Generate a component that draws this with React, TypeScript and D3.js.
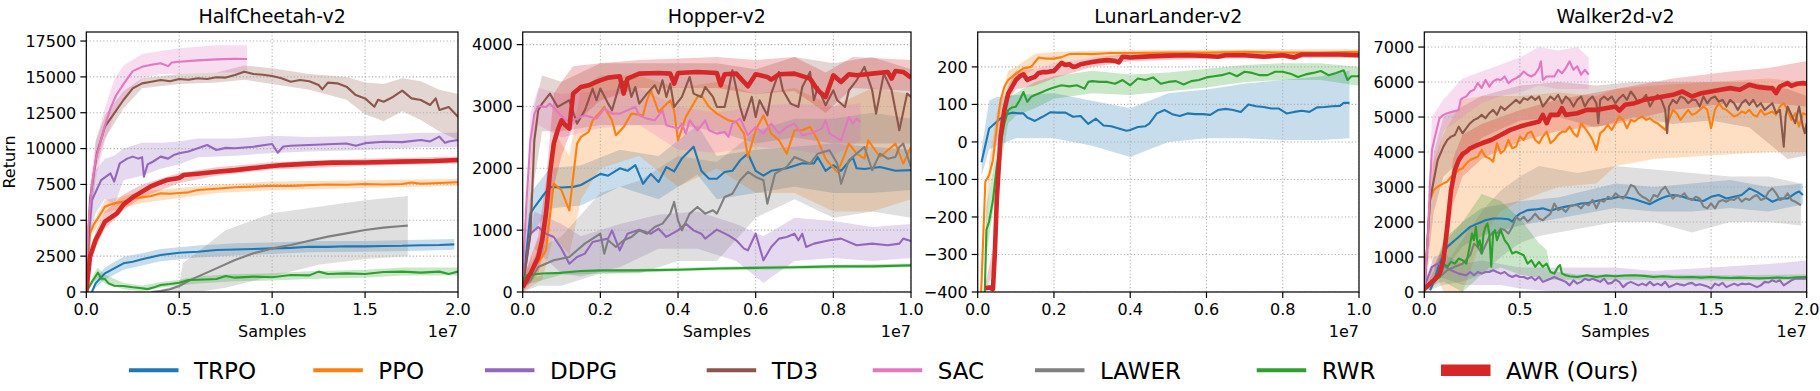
import React from 'react';
import * as d3 from 'd3';

const W = 1820, H = 391;
const TOP = 32, BOTTOM = 292;
const PANEL_X: [number, number][] = [[86.3, 458], [522.7, 911], [977.7, 1359], [1424.3, 1806.7]];
const FONT = '"DejaVu Sans", Verdana, sans-serif';

const NAMES = ['TRPO', 'PPO', 'DDPG', 'TD3', 'SAC', 'LAWER', 'RWR', 'AWR (Ours)'];
const COLORS = ['#1f77b4', '#ff7f0e', '#9467bd', '#8c564b', '#e377c2', '#7f7f7f', '#2ca02c', '#d62728'];
const TITLES = ['HalfCheetah-v2', 'Hopper-v2', 'LunarLander-v2', 'Walker2d-v2'];
const X_MAX = [2.0, 1.0, 1.0, 2.0];
const Y_DOMAINS: [number, number][] = [[0, 18130], [0, 4204], [-400, 293], [0, 7430]];
const Y_TICKS = [
  [0, 2500, 5000, 7500, 10000, 12500, 15000, 17500],
  [0, 1000, 2000, 3000, 4000],
  [-400, -300, -200, -100, 0, 100, 200],
  [0, 1000, 2000, 3000, 4000, 5000, 6000, 7000],
];
const X_TICKS = [
  [0, 0.5, 1.0, 1.5, 2.0],
  [0, 0.2, 0.4, 0.6, 0.8, 1.0],
  [0, 0.2, 0.4, 0.6, 0.8, 1.0],
  [0, 0.5, 1.0, 1.5, 2.0],
];
const SHOW_XLABEL = [true, true, false, true];

// ---------------- HalfCheetah ----------------
const HC_TRPO = [[0.03,0],[0.05,600],[0.1,1300],[0.15,1650],[0.2,2000],[0.25,2110],[0.3,2280],[0.4,2580],[0.5,2740],[0.6,2810],[0.7,2930],[0.8,2960],[0.9,3000],[1.0,3040],[1.1,3080],[1.2,3160],[1.3,3150],[1.4,3190],[1.5,3180],[1.6,3210],[1.7,3220],[1.8,3260],[1.9,3280],[1.98,3320]];
const HC_TRPO_B = [[0.03,0,0],[0.05,300,900],[0.1,850,1700],[0.2,1550,2450],[0.3,1850,2700],[0.4,2150,3000],[0.6,2400,3250],[0.8,2550,3400],[1.0,2650,3450],[1.2,2780,3550],[1.5,2800,3550],[1.8,2880,3650],[1.98,2950,3700]];
const HC_PPO = [[0,0],[0.02,4090],[0.04,4700],[0.07,5300],[0.1,5950],[0.13,6100],[0.15,6180],[0.2,6300],[0.25,6530],[0.3,6600],[0.35,6700],[0.4,6880],[0.45,6850],[0.5,6900],[0.55,6950],[0.6,7110],[0.7,7200],[0.8,7300],[0.9,7350],[1.0,7410],[1.1,7400],[1.2,7450],[1.3,7500],[1.4,7480],[1.5,7530],[1.6,7500],[1.7,7530],[1.75,7640],[1.8,7550],[1.9,7600],[2.0,7650]];
const HC_PPO_B = [[0,0,200],[0.02,3700,4500],[0.1,5500,6400],[0.2,5900,6700],[0.3,6200,7000],[0.5,6550,7250],[0.7,6900,7500],[1.0,7100,7700],[1.5,7250,7800],[2.0,7400,7900]];
const HC_DDPG = [[0,0],[0.01,3500],[0.03,6400],[0.08,7800],[0.13,8270],[0.15,7700],[0.18,8970],[0.22,9300],[0.25,9440],[0.28,9300],[0.3,9400],[0.31,8040],[0.33,8900],[0.36,9100],[0.4,9440],[0.44,9300],[0.47,9550],[0.5,9670],[0.55,9800],[0.6,10020],[0.65,10250],[0.7,9900],[0.75,10050],[0.8,10020],[0.9,10130],[1.0,10320],[1.03,9710],[1.06,10150],[1.1,10200],[1.2,10250],[1.3,10300],[1.4,10360],[1.45,10200],[1.5,10380],[1.6,10480],[1.7,10450],[1.8,10600],[1.85,10500],[1.9,10830],[1.93,10400],[1.95,10500],[2.0,10600]];
const HC_DDPG_B = [[0,0,300],[0.02,4000,6500],[0.05,5500,8500],[0.1,6500,9300],[0.15,6000,9500],[0.2,7800,10000],[0.3,8100,10400],[0.4,8600,10400],[0.5,8900,10500],[0.6,9400,10700],[0.8,9500,10700],[1.0,9700,10900],[1.2,9800,10800],[1.5,9900,10900],[1.8,10100,11100],[2.0,10100,11100]];
const HC_TD3 = [[0,0],[0.02,6500],[0.057,9670],[0.1,11530],[0.15,12460],[0.2,13390],[0.25,14200],[0.3,14550],[0.35,14660],[0.4,14780],[0.45,14700],[0.5,14850],[0.55,14800],[0.6,14900],[0.65,14850],[0.7,14970],[0.75,14950],[0.8,15130],[0.85,15360],[0.9,15200],[0.95,15150],[1.0,15060],[1.05,14900],[1.1,14660],[1.15,14780],[1.2,14700],[1.25,14430],[1.27,14130],[1.3,14600],[1.35,14550],[1.4,14320],[1.45,13730],[1.5,13500],[1.55,12920],[1.57,13400],[1.6,13270],[1.65,13600],[1.7,14040],[1.75,13500],[1.8,13390],[1.85,13040],[1.88,13500],[1.9,12690],[1.95,12900],[2.0,12220]];
const HC_TD3_B = [[0,0,300],[0.05,8500,10500],[0.1,10700,12300],[0.2,12800,14000],[0.3,14200,14900],[0.5,14500,15200],[0.7,14600,15300],[0.85,14800,15800],[1.0,14500,15600],[1.2,14100,15200],[1.4,13400,15000],[1.5,12400,14600],[1.6,11900,14500],[1.7,12600,14900],[1.8,12000,14700],[1.9,11200,14100],[2.0,10600,13800]];
const HC_SAC = [[0,0],[0.01,4500],[0.03,7500],[0.05,9200],[0.075,10400],[0.1,11600],[0.13,12800],[0.16,13700],[0.2,14500],[0.25,15400],[0.3,15700],[0.35,15850],[0.4,15950],[0.44,15750],[0.46,16000],[0.5,16050],[0.6,16150],[0.7,16220],[0.8,16260],[0.865,16250]];
const HC_SAC_B = [[0,0,300],[0.02,5000,7500],[0.05,7800,10500],[0.1,10500,12800],[0.15,12300,14800],[0.2,13400,15800],[0.3,14900,16600],[0.4,15200,16800],[0.5,15200,17000],[0.7,15300,17200],[0.865,15300,17200]];
const HC_LAWER = [[0.35,0],[0.4,60],[0.45,190],[0.5,420],[0.55,770],[0.6,1070],[0.7,1650],[0.8,2230],[0.9,2700],[1.0,3040],[1.1,3280],[1.2,3580],[1.3,3860],[1.4,4090],[1.5,4320],[1.6,4490],[1.7,4600],[1.73,4630]];
const HC_LAWER_B = [[0.35,0,0],[0.5,0,500],[0.52,0,2000],[0.6,0,2800],[0.75,300,4300],[1.0,1100,5500],[1.25,1900,5950],[1.5,2300,6400],[1.73,2500,6700]];
const HC_RWR = [[0,0],[0.03,700],[0.063,1350],[0.08,950],[0.1,900],[0.12,600],[0.15,440],[0.2,420],[0.25,330],[0.3,260],[0.33,200],[0.37,350],[0.4,490],[0.45,560],[0.5,650],[0.55,840],[0.6,850],[0.7,910],[0.75,1115],[0.8,1000],[0.9,1070],[1.0,1030],[1.1,1190],[1.2,1160],[1.25,1420],[1.3,1260],[1.4,1300],[1.5,1250],[1.6,1390],[1.7,1420],[1.8,1350],[1.9,1420],[1.95,1260],[2.0,1420]];
const HC_RWR_B = [[0,0,200],[0.06,1000,1700],[0.1,600,1200],[0.2,200,650],[0.3,50,450],[0.4,300,700],[0.5,450,850],[0.6,600,1100],[0.8,750,1250],[1.0,800,1300],[1.2,900,1450],[1.5,1000,1550],[1.7,1150,1700],[2.0,1150,1700]];
const HC_AWR = [[0,0],[0.02,2460],[0.05,3630],[0.1,4900],[0.165,5480],[0.2,6100],[0.255,6650],[0.3,7000],[0.344,7340],[0.4,7650],[0.434,7810],[0.5,7950],[0.524,8160],[0.6,8250],[0.7,8390],[0.8,8500],[0.88,8620],[1.0,8780],[1.06,8850],[1.2,8950],[1.33,9020],[1.5,9030],[1.69,9090],[1.87,9130],[2.0,9200]];
const HC_AWR_B = [[0,0,200],[0.02,2000,3000],[0.05,3100,4200],[0.1,4400,5600],[0.2,5700,6800],[0.3,6600,7500],[0.5,7600,8300],[0.7,8100,8700],[1.0,8550,9050],[1.5,8800,9300],[2.0,8950,9450]];

// ---------------- Hopper ----------------
const HP_TRPO = [[0,80],[0.02,1270],[0.03,1370],[0.05,1540],[0.07,1700],[0.1,1690],[0.13,1700],[0.15,1730],[0.17,1800],[0.2,1910],[0.22,1880],[0.25,2000],[0.27,1960],[0.29,2050],[0.31,1750],[0.33,1910],[0.35,1780],[0.37,2020],[0.39,1950],[0.41,2160],[0.44,2350],[0.46,1960],[0.48,1830],[0.5,1830],[0.52,1940],[0.54,1960],[0.56,2130],[0.58,2240],[0.6,1960],[0.62,1880],[0.64,1960],[0.68,2000],[0.72,2080],[0.75,2080],[0.76,2180],[0.78,1960],[0.8,2050],[0.82,1960],[0.85,2180],[0.86,2000],[0.88,1990],[0.92,2020],[0.96,1960],[1.0,1970]];
const HP_TRPO_B = [[0,0,150],[0.02,900,1600],[0.07,1350,2000],[0.15,1400,2050],[0.25,1700,2300],[0.35,1500,2200],[0.45,1900,2700],[0.5,1500,2200],[0.6,1600,2300],[0.7,1700,2350],[0.8,1600,2400],[0.9,1600,2350],[1.0,1650,2300]];
const HP_PPO = [[0,80],[0.03,404],[0.05,566],[0.06,674],[0.07,1213],[0.08,1752],[0.1,1644],[0.12,1321],[0.13,1860],[0.14,2399],[0.15,2507],[0.17,2588],[0.18,2776],[0.2,2911],[0.21,2992],[0.22,2884],[0.23,2776],[0.24,2534],[0.26,2669],[0.28,2884],[0.31,2857],[0.32,3100],[0.33,3262],[0.35,2911],[0.38,3100],[0.39,2938],[0.4,2453],[0.42,2830],[0.45,3154],[0.46,3181],[0.48,2992],[0.5,2884],[0.53,2776],[0.55,2749],[0.57,2561],[0.58,2183],[0.6,2615],[0.62,2857],[0.64,2561],[0.66,2453],[0.68,2237],[0.7,2615],[0.72,2615],[0.74,2669],[0.76,2453],[0.78,2156],[0.79,2076],[0.81,1941],[0.82,2076],[0.84,2399],[0.86,2237],[0.88,2156],[0.89,2453],[0.92,2183],[0.95,2345],[0.96,2399],[0.98,2076],[1.0,2345]];
const HP_PPO_B = [[0,0,200],[0.05,200,1000],[0.08,900,2600],[0.12,600,2200],[0.15,1500,3300],[0.2,2000,3500],[0.3,2200,3500],[0.4,1700,3300],[0.5,2000,3400],[0.6,1600,3200],[0.7,1600,3300],[0.8,1300,3000],[0.9,1300,3300],[1.0,1500,3200]];
const HP_DDPG = [[0,80],[0.02,943],[0.04,1051],[0.06,943],[0.08,890],[0.1,701],[0.12,458],[0.14,566],[0.16,620],[0.18,809],[0.2,836],[0.22,863],[0.23,997],[0.25,674],[0.27,943],[0.3,1008],[0.33,943],[0.35,1024],[0.37,890],[0.4,997],[0.42,1105],[0.44,997],[0.46,943],[0.47,863],[0.5,1008],[0.53,916],[0.55,836],[0.57,701],[0.58,674],[0.6,943],[0.62,512],[0.64,728],[0.66,863],[0.68,890],[0.7,943],[0.71,836],[0.72,943],[0.73,728],[0.75,782],[0.79,836],[0.82,863],[0.86,755],[0.9,782],[0.94,755],[0.97,782],[0.98,863],[1.0,825]];
const HP_DDPG_B = [[0,0,200],[0.03,700,1300],[0.1,300,1100],[0.15,250,900],[0.25,400,1100],[0.35,700,1250],[0.45,700,1300],[0.55,500,1100],[0.62,150,900],[0.7,500,1200],[0.8,550,1150],[0.9,500,1050],[1.0,550,1100]];
const HP_TD3 = [[0,80],[0.02,943],[0.03,2453],[0.04,2938],[0.05,3046],[0.07,3208],[0.09,2992],[0.12,3100],[0.14,2722],[0.16,2938],[0.18,3289],[0.19,3100],[0.2,3289],[0.22,3046],[0.23,2938],[0.25,3369],[0.27,3423],[0.28,3154],[0.29,3315],[0.3,3046],[0.32,3208],[0.34,3342],[0.35,3208],[0.36,3423],[0.37,3154],[0.38,3369],[0.39,2992],[0.41,3154],[0.43,3477],[0.44,3208],[0.46,3154],[0.47,3315],[0.49,3154],[0.5,2992],[0.52,2992],[0.53,3262],[0.54,3585],[0.56,2992],[0.57,2776],[0.59,3154],[0.6,2830],[0.61,3100],[0.63,2857],[0.64,3208],[0.66,3558],[0.67,3262],[0.69,3046],[0.71,2992],[0.72,3315],[0.74,3558],[0.75,3100],[0.76,3315],[0.78,3019],[0.8,3262],[0.81,3100],[0.83,2992],[0.84,3262],[0.86,3423],[0.88,3639],[0.9,3262],[0.91,2884],[0.93,3531],[0.95,3262],[0.97,2615],[0.99,3208],[1.0,3154]];
const HP_TD3_B = [[0,0,200],[0.03,1800,3000],[0.05,2600,3500],[0.1,2600,3400],[0.2,2700,3700],[0.3,2700,3700],[0.4,2700,3700],[0.5,2600,3700],[0.6,2400,3600],[0.7,2500,3800],[0.8,2400,3700],[0.9,2400,3800],[1.0,2400,3600]];
const HP_SAC = [[0,243],[0.01,1483],[0.02,2453],[0.03,2884],[0.04,3003],[0.06,2992],[0.07,3046],[0.09,2911],[0.11,2776],[0.13,2776],[0.16,2857],[0.19,2803],[0.21,2965],[0.23,2884],[0.25,2884],[0.27,2938],[0.29,2992],[0.3,2857],[0.32,2803],[0.34,2776],[0.36,2938],[0.37,2695],[0.4,2642],[0.41,2722],[0.42,2561],[0.43,2776],[0.45,2615],[0.47,2776],[0.48,2615],[0.5,2561],[0.52,2588],[0.53,2507],[0.54,2722],[0.56,2803],[0.58,2534],[0.6,2669],[0.62,2561],[0.64,2722],[0.66,2561],[0.68,2669],[0.7,2722],[0.72,2534],[0.74,2561],[0.77,2642],[0.78,2776],[0.79,2561],[0.82,2453],[0.83,2642],[0.84,2830],[0.85,2722],[0.86,2803],[0.87,2749]];
const HP_SAC_B = [[0,0,500],[0.02,2000,2900],[0.04,2700,3300],[0.1,2500,3200],[0.2,2650,3250],[0.3,2700,3300],[0.4,2300,3000],[0.5,2250,2900],[0.6,2350,3000],[0.7,2300,3050],[0.8,2200,3000],[0.87,2450,3050]];
const HP_LAWER = [[0,80],[0.02,189],[0.04,404],[0.08,512],[0.12,566],[0.14,674],[0.16,782],[0.18,863],[0.2,943],[0.21,620],[0.22,836],[0.24,728],[0.26,836],[0.28,890],[0.3,997],[0.32,943],[0.34,1051],[0.36,1105],[0.38,1267],[0.39,1456],[0.4,1159],[0.41,997],[0.43,1267],[0.45,1375],[0.47,1267],[0.49,1321],[0.5,1267],[0.52,1536],[0.54,1590],[0.56,1806],[0.58,1941],[0.6,1860],[0.62,1806],[0.63,1429],[0.65,1914],[0.68,2022],[0.7,2183],[0.72,2129],[0.74,2076],[0.76,2237],[0.79,2291],[0.81,2076],[0.82,1750],[0.84,2129],[0.86,2237],[0.88,2345],[0.9,1968],[0.92,2237],[0.94,2156],[0.96,2183],[0.97,2345],[0.98,2399],[1.0,2022]];
const HP_LAWER_B = [[0,0,200],[0.04,100,700],[0.1,100,900],[0.2,300,1600],[0.3,300,1800],[0.4,500,2200],[0.5,500,2100],[0.6,1200,2600],[0.7,1500,2800],[0.8,1200,2800],[0.9,1300,2900],[1.0,1200,2800]];
const HP_RWR = [[0,150],[0.01,270],[0.05,300],[0.1,310],[0.15,340],[0.2,350],[0.3,350],[0.4,360],[0.5,380],[0.6,390],[0.7,400],[0.8,415],[0.9,415],[1.0,430]];
const HP_RWR_B = [[0,100,200],[0.1,280,340],[0.5,350,410],[1.0,400,460]];
const HP_AWR = [[0,80],[0.02,297],[0.04,566],[0.05,836],[0.06,1267],[0.07,1914],[0.08,2399],[0.09,2615],[0.1,2776],[0.11,2695],[0.12,2642],[0.13,3208],[0.15,3315],[0.17,3342],[0.19,3396],[0.2,3423],[0.22,3466],[0.25,3488],[0.26,3208],[0.27,3450],[0.3,3531],[0.35,3542],[0.38,3531],[0.39,3369],[0.4,3542],[0.45,3558],[0.5,3542],[0.51,3342],[0.52,3520],[0.55,3531],[0.58,3326],[0.6,3520],[0.63,3477],[0.64,3434],[0.66,3520],[0.7,3531],[0.74,3450],[0.76,3262],[0.78,3154],[0.8,3504],[0.82,3396],[0.84,3520],[0.86,3504],[0.9,3531],[0.94,3558],[0.95,3450],[0.96,3574],[0.98,3558],[1.0,3466]];
const HP_AWR_B = [[0,0,200],[0.04,300,900],[0.06,800,1800],[0.08,1700,3200],[0.1,2200,3400],[0.13,2700,3650],[0.2,3100,3700],[0.3,3300,3750],[0.5,3300,3800],[0.6,3200,3750],[0.7,3250,3800],[0.78,2900,3550],[0.85,3300,3800],[1.0,3250,3750]];

// ---------------- LunarLander ----------------
const LL_TRPO = [[0.01,-54],[0.03,36],[0.05,54],[0.07,72],[0.09,78],[0.11,76],[0.12,76],[0.13,65],[0.15,56],[0.17,67],[0.19,79],[0.21,78],[0.23,78],[0.25,67],[0.27,69],[0.29,48],[0.31,62],[0.33,44],[0.35,42],[0.37,36],[0.39,30],[0.4,32],[0.41,36],[0.42,40],[0.44,42],[0.45,49],[0.47,76],[0.49,85],[0.51,74],[0.53,69],[0.55,76],[0.57,74],[0.59,74],[0.61,72],[0.63,85],[0.65,88],[0.67,85],[0.69,80],[0.71,100],[0.73,95],[0.75,93],[0.77,89],[0.79,89],[0.81,76],[0.83,80],[0.85,83],[0.87,80],[0.89,92],[0.91,93],[0.93,95],[0.95,96],[0.96,104],[0.975,104]];
const LL_TRPO_B = [[0.01,-90,-20],[0.03,-20,110],[0.05,-10,120],[0.1,10,125],[0.2,10,130],[0.3,-10,110],[0.4,-40,90],[0.5,0,130],[0.6,10,140],[0.7,10,155],[0.8,5,165],[0.9,5,175],[0.975,10,190]];
const LL_PPO = [[0.008,-430],[0.02,-106],[0.03,-88],[0.04,-48],[0.05,40],[0.06,111],[0.07,147],[0.08,165],[0.1,182],[0.12,196],[0.14,200],[0.16,225],[0.18,222],[0.2,222],[0.22,226],[0.24,234],[0.26,235],[0.3,234],[0.35,237],[0.4,237],[0.5,238],[0.6,238],[0.7,240],[0.8,238],[0.9,238],[1.0,240]];
const LL_PPO_B = [[0.008,-430,-430],[0.03,-130,-50],[0.05,0,80],[0.08,140,190],[0.1,165,200],[0.15,195,235],[0.2,210,240],[0.3,225,243],[0.5,230,245],[1.0,232,247]];
const LL_RWR = [[0.018,-420],[0.023,-234],[0.03,-212],[0.04,-155],[0.05,-66],[0.06,-4],[0.07,49],[0.08,85],[0.09,92],[0.1,94],[0.11,111],[0.12,133],[0.13,107],[0.14,120],[0.15,125],[0.16,129],[0.17,133],[0.18,138],[0.19,142],[0.2,145],[0.22,151],[0.24,148],[0.26,151],[0.28,142],[0.29,160],[0.3,162],[0.32,160],[0.34,160],[0.36,155],[0.38,165],[0.4,151],[0.42,169],[0.44,165],[0.46,172],[0.48,155],[0.5,160],[0.52,162],[0.54,153],[0.56,162],[0.58,165],[0.6,172],[0.62,175],[0.64,178],[0.66,184],[0.68,175],[0.7,187],[0.72,184],[0.74,178],[0.76,178],[0.78,187],[0.8,187],[0.82,182],[0.84,173],[0.86,180],[0.88,184],[0.9,189],[0.92,178],[0.94,184],[0.96,191],[0.97,165],[0.98,175],[1.0,175]];
const LL_RWR_B = [[0.018,-420,-420],[0.023,-300,-170],[0.05,-120,-20],[0.08,50,120],[0.1,70,130],[0.15,90,160],[0.2,115,175],[0.3,130,190],[0.4,125,180],[0.5,135,185],[0.6,145,195],[0.7,160,205],[0.8,165,210],[0.9,165,210],[1.0,150,200]];
const LL_AWR = [[0.02,-390],[0.03,-388],[0.04,-392],[0.045,-296],[0.05,-155],[0.06,14],[0.07,85],[0.08,129],[0.09,147],[0.1,165],[0.11,175],[0.12,180],[0.13,165],[0.14,170],[0.15,173],[0.16,184],[0.17,186],[0.18,186],[0.19,188],[0.2,189],[0.21,200],[0.22,211],[0.23,205],[0.24,207],[0.25,200],[0.26,202],[0.27,207],[0.28,209],[0.29,211],[0.3,213],[0.32,216],[0.34,218],[0.36,216],[0.37,212],[0.38,227],[0.4,225],[0.45,228],[0.5,230],[0.55,231],[0.6,229],[0.63,227],[0.65,231],[0.7,231],[0.75,227],[0.8,231],[0.83,225],[0.85,233],[0.9,233],[0.95,233],[1.0,231]];
const LL_AWR_B = [[0.02,-400,-380],[0.045,-330,-260],[0.06,-30,60],[0.08,110,150],[0.1,140,190],[0.15,150,195],[0.2,170,210],[0.3,200,225],[0.4,215,235],[0.6,222,237],[1.0,224,238]];

// ---------------- Walker2d ----------------
const W_TRPO = [[0.03,50],[0.05,300],[0.08,810],[0.12,1290],[0.16,1480],[0.2,1670],[0.24,1860],[0.28,1960],[0.32,2050],[0.36,2100],[0.4,2100],[0.44,2080],[0.46,2010],[0.48,2150],[0.5,2240],[0.54,2340],[0.58,2360],[0.62,2390],[0.66,2320],[0.7,2390],[0.74,2440],[0.78,2480],[0.82,2530],[0.86,2550],[0.9,2600],[0.94,2650],[0.98,2670],[1.02,2720],[1.06,2700],[1.1,2650],[1.14,2580],[1.18,2510],[1.22,2630],[1.26,2720],[1.3,2770],[1.34,2740],[1.38,2670],[1.42,2630],[1.46,2600],[1.5,2720],[1.54,2770],[1.58,2670],[1.62,2720],[1.66,2770],[1.7,2960],[1.72,2910],[1.74,2860],[1.78,2720],[1.82,2580],[1.86,2670],[1.9,2670],[1.94,2820],[1.96,2870],[1.98,2770]];
const W_TRPO_B = [[0.03,0,100],[0.1,600,1400],[0.2,1300,2000],[0.3,1600,2400],[0.5,1900,2600],[0.7,2100,2700],[1.0,2400,3100],[1.2,2300,3000],[1.4,2300,3100],[1.6,2400,3200],[1.8,2300,3000],[1.98,2500,3100]];
const W_PPO = [[0,0],[0.03,2626],[0.05,2913],[0.07,3008],[0.1,3104],[0.12,3152],[0.14,3295],[0.16,3390],[0.18,3486],[0.2,3534],[0.22,3677],[0.24,3772],[0.26,3820],[0.28,3868],[0.3,4059],[0.32,3868],[0.34,3820],[0.36,3725],[0.38,4250],[0.4,3963],[0.42,4059],[0.44,4345],[0.46,4107],[0.48,4154],[0.5,4441],[0.52,4345],[0.54,4536],[0.56,4584],[0.58,4345],[0.6,4250],[0.62,4441],[0.64,4584],[0.66,4250],[0.68,4345],[0.7,4489],[0.72,4584],[0.74,4584],[0.76,4727],[0.78,4536],[0.8,4441],[0.82,4823],[0.84,4680],[0.86,4536],[0.88,4345],[0.9,4059],[0.92,4536],[0.94,4632],[0.96,4775],[0.98,4632],[1.0,4823],[1.02,5014],[1.04,4918],[1.06,4680],[1.08,4918],[1.1,4871],[1.12,4966],[1.14,5014],[1.16,4918],[1.18,4966],[1.2,4871],[1.22,4823],[1.24,4727],[1.26,4632],[1.28,4918],[1.3,5205],[1.32,5109],[1.34,4918],[1.36,5062],[1.38,5205],[1.4,5062],[1.42,5109],[1.44,5205],[1.46,5300],[1.48,5205],[1.5,4680],[1.52,5205],[1.54,5396],[1.56,5253],[1.58,5205],[1.6,5109],[1.62,5014],[1.64,5062],[1.66,5157],[1.68,5109],[1.7,5205],[1.72,5062],[1.74,5014],[1.76,5205],[1.78,5062],[1.8,5109],[1.82,5157],[1.84,5062],[1.86,5300],[1.88,5396],[1.9,5205],[1.92,4918],[1.94,5109],[1.96,4727],[1.98,5109],[2.0,5062]];
const W_PPO_B = [[0,0,200],[0.03,1000,3500],[0.1,0,4500],[0.2,0,5500],[0.3,1500,5600],[0.4,2300,5600],[0.5,2600,5600],[0.7,3000,5700],[0.9,3100,5600],[1.0,3600,5800],[1.2,3800,5900],[1.5,3900,6000],[1.8,4000,6100],[2.0,4000,6000]];
const W_DDPG = [[0,150],[0.04,720],[0.07,810],[0.1,760],[0.14,620],[0.18,525],[0.22,480],[0.24,570],[0.26,480],[0.28,570],[0.3,525],[0.32,570],[0.34,570],[0.36,620],[0.38,570],[0.4,525],[0.42,570],[0.44,480],[0.46,430],[0.48,480],[0.5,430],[0.52,430],[0.54,380],[0.56,430],[0.58,335],[0.6,430],[0.62,290],[0.64,335],[0.66,380],[0.68,430],[0.7,380],[0.72,335],[0.74,290],[0.76,190],[0.78,335],[0.8,240],[0.82,290],[0.84,380],[0.86,335],[0.88,380],[0.9,335],[0.92,290],[0.94,380],[0.96,240],[0.98,260],[1.0,355],[1.02,290],[1.04,140],[1.06,240],[1.08,290],[1.1,240],[1.12,190],[1.14,240],[1.16,190],[1.18,290],[1.2,190],[1.22,240],[1.24,190],[1.26,290],[1.28,140],[1.3,190],[1.32,240],[1.34,210],[1.36,190],[1.38,240],[1.4,260],[1.42,190],[1.44,220],[1.46,190],[1.48,160],[1.5,95],[1.52,240],[1.54,190],[1.56,260],[1.58,140],[1.6,190],[1.62,240],[1.64,190],[1.66,240],[1.68,220],[1.7,240],[1.72,190],[1.74,140],[1.76,190],[1.78,290],[1.8,270],[1.82,335],[1.84,290],[1.86,335],[1.88,190],[1.9,260],[1.92,335],[1.94,380],[1.96,380],[1.98,380],[2.0,380]];
const W_DDPG_B = [[0,0,300],[0.05,400,1000],[0.1,400,1100],[0.2,200,800],[0.3,200,900],[0.4,200,800],[0.5,100,700],[0.7,0,700],[1.0,0,700],[1.2,0,600],[1.5,0,700],[1.8,0,800],[2.0,0,900]];
const W_TD3 = [[0,0],[0.03,2626],[0.05,3199],[0.07,3772],[0.1,4154],[0.12,4345],[0.14,4441],[0.16,4489],[0.18,4727],[0.2,4536],[0.22,4680],[0.24,4823],[0.26,4918],[0.28,4966],[0.3,5062],[0.32,4966],[0.34,5109],[0.36,5205],[0.38,5062],[0.4,5300],[0.42,5205],[0.44,5300],[0.46,5396],[0.48,5491],[0.5,5396],[0.52,5539],[0.54,5491],[0.56,5587],[0.58,5491],[0.6,5587],[0.62,5300],[0.64,5444],[0.66,5587],[0.68,5491],[0.7,5635],[0.72,5396],[0.74,5587],[0.76,5491],[0.78,5300],[0.8,5491],[0.82,5587],[0.84,5300],[0.86,5491],[0.88,5587],[0.9,5396],[0.91,4823],[0.92,5491],[0.94,5587],[0.96,5491],[0.98,5587],[1.0,5396],[1.02,5539],[1.04,5635],[1.06,5491],[1.08,5730],[1.1,5587],[1.12,5396],[1.14,5491],[1.16,5635],[1.18,5300],[1.2,5491],[1.22,5635],[1.24,5491],[1.26,5205],[1.27,4536],[1.28,5300],[1.3,5491],[1.32,5396],[1.34,5587],[1.36,5539],[1.38,5396],[1.4,5491],[1.42,5491],[1.44,5300],[1.46,5587],[1.48,5396],[1.5,5539],[1.52,5587],[1.54,5444],[1.56,5491],[1.58,5300],[1.6,5491],[1.62,5396],[1.64,5205],[1.66,5396],[1.68,5491],[1.7,5348],[1.72,5491],[1.74,5300],[1.76,5396],[1.78,5205],[1.8,5300],[1.82,5396],[1.84,5109],[1.86,5205],[1.88,4154],[1.89,5014],[1.9,5300],[1.92,5062],[1.94,4823],[1.96,5300],[1.98,4727],[1.99,4536],[2.0,4823]];
const W_TD3_B = [[0,0,200],[0.05,2300,4000],[0.1,3300,5000],[0.2,3800,5300],[0.3,4400,5600],[0.5,4900,5900],[0.7,5000,6000],[0.9,4700,5900],[1.1,5000,6000],[1.3,4800,6000],[1.5,4900,6000],[1.7,4700,6000],[1.9,3800,5800],[2.0,3900,5600]];
const W_SAC = [[0,0],[0.02,1670],[0.03,3100],[0.04,4060],[0.06,4540],[0.08,4970],[0.1,5060],[0.12,5110],[0.15,5160],[0.18,5200],[0.19,5490],[0.2,5540],[0.22,5590],[0.24,5730],[0.26,5780],[0.28,5970],[0.3,5830],[0.32,6060],[0.34,5870],[0.36,6020],[0.38,6080],[0.4,6060],[0.42,6160],[0.44,5970],[0.46,6060],[0.48,6110],[0.5,6180],[0.52,6300],[0.54,6210],[0.56,6160],[0.58,6230],[0.6,6400],[0.61,6590],[0.62,6060],[0.64,6160],[0.66,6160],[0.68,6160],[0.7,6350],[0.72,6250],[0.74,6400],[0.76,6590],[0.78,6350],[0.8,6450],[0.82,6210],[0.84,6350],[0.86,6210]];
const W_SAC_B = [[0,0,200],[0.04,3000,5000],[0.1,4600,5500],[0.2,5000,6100],[0.3,5400,6300],[0.4,5600,6500],[0.5,5700,6700],[0.6,5900,7000],[0.7,5800,6900],[0.8,5800,7000],[0.86,5800,6700]];
const W_LAWER = [[0,50],[0.08,430],[0.12,620],[0.16,720],[0.2,810],[0.24,1050],[0.26,1380],[0.28,1290],[0.3,1100],[0.32,1340],[0.34,1580],[0.36,1720],[0.38,1670],[0.4,1810],[0.42,1770],[0.44,1670],[0.46,1860],[0.48,2150],[0.5,2050],[0.52,2150],[0.54,2010],[0.56,2100],[0.58,2240],[0.6,2100],[0.62,2050],[0.64,2150],[0.66,2240],[0.68,2530],[0.7,2340],[0.72,2390],[0.74,2290],[0.76,2440],[0.78,2480],[0.8,2480],[0.82,2390],[0.84,2530],[0.86,2480],[0.88,2630],[0.9,2390],[0.92,2630],[0.94,2580],[0.96,2720],[0.98,2670],[1.0,2820],[1.02,2720],[1.04,2670],[1.06,2820],[1.08,3060],[1.1,3010],[1.12,2820],[1.14,2720],[1.16,2670],[1.18,2580],[1.2,2770],[1.22,2720],[1.24,2910],[1.26,3010],[1.28,2820],[1.3,2670],[1.32,2770],[1.34,2720],[1.36,2820],[1.38,2670],[1.4,2630],[1.42,2720],[1.44,2670],[1.46,2440],[1.48,2390],[1.5,2530],[1.52,2390],[1.54,2580],[1.56,2630],[1.58,2580],[1.6,2650],[1.62,2630],[1.64,2720],[1.66,2580],[1.68,2670],[1.7,2630],[1.72,2720],[1.74,2770],[1.76,2630],[1.78,2670],[1.8,2860],[1.82,2960],[1.84,2820],[1.86,2630],[1.88,2670],[1.9,2820],[1.92,2630],[1.94,2580],[1.96,2510],[1.97,2480]];
const W_LAWER_B = [[0,0,100],[0.1,200,700],[0.2,300,1500],[0.3,500,2300],[0.4,1000,2900],[0.5,1400,3300],[0.6,1600,3600],[0.8,1800,3400],[1.0,2000,3600],[1.2,2000,3500],[1.4,1700,3400],[1.6,2000,3300],[1.8,2000,3300],[1.97,1900,3100]];
const W_RWR = [[0,50],[0.04,330],[0.08,430],[0.1,810],[0.12,720],[0.14,860],[0.16,810],[0.18,955],[0.2,910],[0.22,810],[0.24,1380],[0.25,1670],[0.26,1480],[0.27,1860],[0.28,1290],[0.29,1480],[0.3,1100],[0.31,1670],[0.32,1860],[0.33,1960],[0.34,1670],[0.35,720],[0.36,1670],[0.37,1770],[0.38,1480],[0.4,1770],[0.42,1480],[0.44,1340],[0.46,1100],[0.48,1150],[0.5,1100],[0.52,1050],[0.54,810],[0.56,910],[0.58,720],[0.6,860],[0.62,720],[0.64,810],[0.66,570],[0.68,525],[0.7,720],[0.71,770],[0.72,525],[0.74,480],[0.76,450],[0.8,430],[0.85,480],[0.9,430],[0.95,470],[1.0,450],[1.05,470],[1.1,480],[1.15,460],[1.2,430],[1.25,450],[1.3,430],[1.35,420],[1.4,430],[1.45,410],[1.5,430],[1.55,410],[1.6,400],[1.65,410],[1.7,400],[1.75,390],[1.8,400],[1.85,410],[1.9,400],[1.95,420],[2.0,430]];
const W_RWR_B = [[0,0,100],[0.05,200,600],[0.1,300,1500],[0.2,0,2000],[0.3,500,2800],[0.4,700,2600],[0.5,500,2100],[0.6,400,1400],[0.64,300,1200],[0.66,350,600],[0.8,350,500],[1.2,350,500],[1.6,330,480],[2.0,350,500]];
const W_AWR = [[0,95],[0.05,334],[0.08,525],[0.1,907],[0.12,1862],[0.14,2913],[0.16,3486],[0.18,3772],[0.2,3944],[0.22,4011],[0.24,4107],[0.26,4154],[0.28,4202],[0.3,4250],[0.35,4345],[0.4,4489],[0.45,4632],[0.5,4727],[0.55,4804],[0.6,4871],[0.62,5062],[0.64,4823],[0.66,5062],[0.7,5062],[0.72,5253],[0.74,5062],[0.8,5109],[0.85,5205],[0.9,5205],[0.95,5253],[1.0,5300],[1.02,5186],[1.05,5348],[1.1,5396],[1.15,5491],[1.2,5539],[1.25,5587],[1.3,5635],[1.35,5730],[1.4,5587],[1.45,5682],[1.5,5730],[1.55,5778],[1.6,5826],[1.65,5778],[1.7,5921],[1.75,5854],[1.8,5826],[1.82,5826],[1.84,5682],[1.86,5873],[1.9,5969],[1.92,5892],[1.95,5950],[1.98,5969],[2.0,5950]];
const W_AWR_B = [[0,0,200],[0.1,500,1300],[0.15,2500,3800],[0.2,3300,4500],[0.3,3800,4800],[0.5,4300,5200],[0.7,4600,5500],[1.0,4800,5800],[1.3,5200,6100],[1.6,5400,6300],[1.8,5400,6400],[2.0,5300,6600]];

// order of series per panel follows NAMES
const PANEL_LINES = [
  [HC_TRPO, HC_PPO, HC_DDPG, HC_TD3, HC_SAC, HC_LAWER, HC_RWR, HC_AWR],
  [HP_TRPO, HP_PPO, HP_DDPG, HP_TD3, HP_SAC, HP_LAWER, HP_RWR, HP_AWR],
  [LL_TRPO, LL_PPO, null, null, null, null, LL_RWR, LL_AWR],
  [W_TRPO, W_PPO, W_DDPG, W_TD3, W_SAC, W_LAWER, W_RWR, W_AWR],
];
const PANEL_BANDS = [
  [HC_TRPO_B, HC_PPO_B, HC_DDPG_B, HC_TD3_B, HC_SAC_B, HC_LAWER_B, HC_RWR_B, HC_AWR_B],
  [HP_TRPO_B, HP_PPO_B, HP_DDPG_B, HP_TD3_B, HP_SAC_B, HP_LAWER_B, HP_RWR_B, HP_AWR_B],
  [LL_TRPO_B, LL_PPO_B, null, null, null, null, LL_RWR_B, LL_AWR_B],
  [W_TRPO_B, W_PPO_B, W_DDPG_B, W_TD3_B, W_SAC_B, W_LAWER_B, W_RWR_B, W_AWR_B],
];

const LEGEND_X = [129, 313.3, 485, 706.7, 872.7, 1035, 1256.7, 1441];

function fmtY(v: number) {
  return v < 0 ? '\u2212' + Math.abs(v) : String(v);
}

function Panel({ idx }: { idx: number }) {
  const [x0, x1] = PANEL_X[idx];
  const x = d3.scaleLinear().domain([0, X_MAX[idx]]).range([x0, x1]);
  const y = d3.scaleLinear().domain(Y_DOMAINS[idx]).range([BOTTOM, TOP]);
  const line = d3.line<number[]>().x(d => x(d[0])).y(d => y(d[1]));
  const area = d3.area<number[]>().x(d => x(d[0])).y0(d => y(d[1])).y1(d => y(d[2]));
  const clipId = `clip${idx}`;
  const lines = PANEL_LINES[idx];
  const bands = PANEL_BANDS[idx];
  const cx = (x0 + x1) / 2;
  return (
    <g>
      <defs>
        <clipPath id={clipId}>
          <rect x={x0} y={TOP} width={x1 - x0} height={BOTTOM - TOP} />
        </clipPath>
      </defs>
      <g clipPath={`url(#${clipId})`}>
        {bands.map((b, i) => b ? (
          <path key={'b' + i} d={area(b) || ''} fill={COLORS[i]} fillOpacity={0.25} stroke="none" />
        ) : null)}
        {Y_TICKS[idx].map(t => (
          <line key={'gy' + t} x1={x0} x2={x1} y1={y(t)} y2={y(t)} stroke="#b0b0b0" strokeWidth={1.1} strokeDasharray="1.2,2.2" />
        ))}
        {X_TICKS[idx].map(t => (
          <line key={'gx' + t} x1={x(t)} x2={x(t)} y1={TOP} y2={BOTTOM} stroke="#b0b0b0" strokeWidth={1.1} strokeDasharray="1.2,2.2" />
        ))}
        {lines.map((l, i) => l ? (
          <path key={'l' + i} d={line(l) || ''} fill="none" stroke={COLORS[i]}
            strokeWidth={i === 7 ? 4.6 : 2.1} strokeLinejoin="round" strokeLinecap="butt" />
        ) : null)}
      </g>
      <rect x={x0} y={TOP} width={x1 - x0} height={BOTTOM - TOP} fill="none" stroke="#000" strokeWidth={1.2} />
      {Y_TICKS[idx].map(t => (
        <g key={'ty' + t}>
          <line x1={x0 - 6} x2={x0} y1={y(t)} y2={y(t)} stroke="#000" strokeWidth={1.2} />
          <text x={x0 - 10} y={y(t) + 5.8} textAnchor="end" fontSize={16} fontFamily={FONT}>{fmtY(t)}</text>
        </g>
      ))}
      {X_TICKS[idx].map(t => (
        <g key={'tx' + t}>
          <line x1={x(t)} x2={x(t)} y1={BOTTOM} y2={BOTTOM + 6} stroke="#000" strokeWidth={1.2} />
          <text x={x(t)} y={314.7} textAnchor="middle" fontSize={16} fontFamily={FONT}>{t.toFixed(1)}</text>
        </g>
      ))}
      <text x={cx} y={22.5} textAnchor="middle" fontSize={19} fontFamily={FONT}>{TITLES[idx]}</text>
      {SHOW_XLABEL[idx] ? (
        <text x={cx} y={337.3} textAnchor="middle" fontSize={16} fontFamily={FONT}>Samples</text>
      ) : null}
      <text x={x1} y={337.3} textAnchor="end" fontSize={16} fontFamily={FONT}>1e7</text>
    </g>
  );
}

export default function App() {
  return (
    <svg width={W} height={H} viewBox={`0 0 ${W} ${H}`}
      style={{ position: 'absolute', left: 0, top: 0, background: '#fff' }}>
      <rect x={0} y={0} width={W} height={H} fill="#fff" />
      {[0, 1, 2, 3].map(i => <Panel key={i} idx={i} />)}
      <text transform="translate(15,162) rotate(-90)" textAnchor="middle" fontSize={16} fontFamily={FONT}>Return</text>
      {NAMES.map((n, i) => (
        <g key={n}>
          <line x1={LEGEND_X[i]} x2={LEGEND_X[i] + 49.5} y1={370.3} y2={370.3}
            stroke={COLORS[i]} strokeWidth={i === 7 ? 11.5 : 4} />
          <text x={LEGEND_X[i] + 65} y={379.3} fontSize={23} fontFamily={FONT}>{n}</text>
        </g>
      ))}
    </svg>
  );
}
